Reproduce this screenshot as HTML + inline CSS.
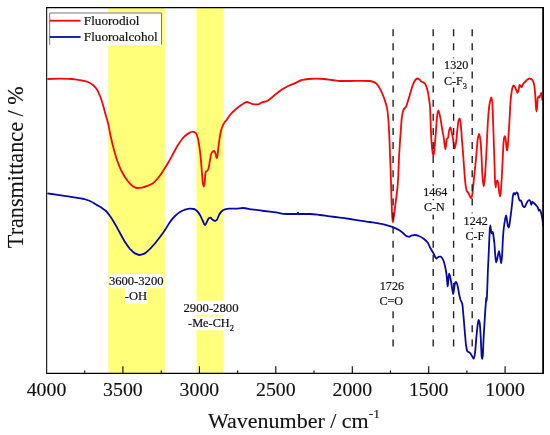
<!DOCTYPE html>
<html><head><meta charset="utf-8"><title>FTIR spectra</title>
<style>
html,body{margin:0;padding:0;background:#fff}
svg{display:block}
text{font-family:"Liberation Serif",serif;fill:#111;stroke:#111;stroke-width:.2px}
.big{stroke-width:.12px;stroke:#000}
</style></head><body>
<svg width="550" height="435" viewBox="0 0 550 435">
<rect width="550" height="435" fill="#fff"/>
<rect x="108.3" y="7.6" width="56.5" height="365.8" fill="#ffff7a"/>
<rect x="196.4" y="7.6" width="26.9" height="365.8" fill="#ffff7a"/>
<path d="M47.4,79.0C51.6,78.7 55.8,78.6 60.0,78.6C64.0,78.6 68.0,78.8 72.0,79.0C74.7,79.2 77.3,79.7 80.0,80.2C82.7,80.7 85.3,81.1 88.0,82.0C89.7,82.6 91.3,83.7 93.0,85.0C94.3,86.1 95.7,87.6 97.0,89.6C98.0,91.1 99.0,93.5 100.0,96.0C101.0,98.5 102.0,101.7 103.0,105.0C104.0,108.3 105.0,112.4 106.0,116.0C106.7,118.4 107.3,120.3 108.0,123.0C108.8,126.3 109.6,131.3 110.4,135.0C111.3,139.0 112.1,142.7 113.0,146.0C114.3,151.1 115.7,156.2 117.0,160.0C118.7,164.8 120.3,168.8 122.0,172.0C123.7,175.2 125.3,177.8 127.0,180.0C128.7,182.2 130.3,184.5 132.0,185.6C133.7,186.7 135.3,188.0 137.0,188.0C138.7,188.0 140.3,187.8 142.0,187.6C144.0,187.3 146.0,186.4 148.0,185.6C149.7,184.9 151.3,184.3 153.0,183.2C154.7,182.1 156.3,180.0 158.0,178.0C159.7,176.0 161.3,173.5 163.0,171.0C164.7,168.5 166.3,165.8 168.0,163.0C169.7,160.2 171.3,157.0 173.0,154.0C174.7,151.0 176.3,147.6 178.0,145.0C179.7,142.4 181.3,139.8 183.0,138.0C184.7,136.2 186.3,134.5 188.0,133.6C189.7,132.7 191.3,131.6 193.0,131.6C194.0,131.6 195.0,132.4 196.0,133.4C196.6,134.0 197.2,135.9 197.8,138.0C198.4,140.0 198.9,143.7 199.5,147.6C200.0,150.8 200.4,154.9 200.9,159.7C201.3,163.5 201.6,169.2 202.0,173.4C202.3,176.8 202.6,181.3 202.9,183.0C203.2,184.7 203.5,186.4 203.8,186.4C204.1,186.4 204.4,184.9 204.7,183.0C204.9,181.9 205.0,176.3 205.2,175.0C205.4,173.2 205.7,172.0 205.9,171.7C206.3,171.2 206.8,171.3 207.2,170.9C207.7,170.5 208.1,169.6 208.6,168.3C209.0,167.2 209.4,163.7 209.8,161.4C210.2,159.1 210.6,155.6 211.0,154.5C211.5,153.2 211.9,152.3 212.4,151.9C213.0,151.4 213.5,151.0 214.1,151.0C214.6,151.0 215.0,152.4 215.5,153.6C215.9,154.6 216.3,158.3 216.7,158.3C217.0,158.3 217.3,156.2 217.6,154.5C218.0,152.3 218.4,147.0 218.8,144.0C219.3,140.5 219.7,137.1 220.2,134.7C220.8,131.8 221.3,129.4 221.9,127.8C222.8,125.4 223.6,123.9 224.5,122.6C225.2,121.5 225.9,120.9 226.6,120.0C227.7,118.5 228.9,116.4 230.0,115.0C232.0,112.6 234.0,110.7 236.0,109.0C238.0,107.3 240.0,105.6 242.0,104.4C243.7,103.4 245.3,102.0 247.0,102.0C248.0,102.0 249.0,102.7 250.0,103.0C251.3,103.5 252.7,104.4 254.0,104.4C255.3,104.4 256.7,104.4 258.0,104.4C259.3,104.4 260.7,102.8 262.0,102.4C263.3,102.0 264.7,101.9 266.0,101.4C267.3,100.9 268.7,99.9 270.0,99.0C272.0,97.6 274.0,95.6 276.0,94.0C278.0,92.4 280.0,90.9 282.0,89.6C284.0,88.3 286.0,87.0 288.0,86.0C290.0,85.0 292.0,84.4 294.0,83.6C296.7,82.5 299.3,80.6 302.0,80.0C304.0,79.5 306.0,79.2 308.0,79.0C310.7,78.8 313.3,78.6 316.0,78.6C318.7,78.6 321.3,78.8 324.0,79.0C326.7,79.2 329.3,79.7 332.0,80.0C334.7,80.3 337.3,81.0 340.0,81.0C343.3,81.0 346.7,81.0 350.0,81.0C354.0,81.0 358.0,80.8 362.0,80.8C364.7,80.8 367.3,80.9 370.0,81.0C371.7,81.1 373.3,81.8 375.0,82.6C376.1,83.1 377.1,84.5 378.2,85.9C379.3,87.3 380.3,89.4 381.4,91.6C382.4,93.7 383.5,96.3 384.5,99.3C385.3,101.8 386.2,103.9 387.0,108.2C387.5,110.6 387.9,114.5 388.4,120.0C388.7,123.1 388.9,128.4 389.2,134.0C389.4,138.2 389.6,144.2 389.8,149.3C390.0,154.4 390.2,159.1 390.4,164.5C390.5,168.1 390.7,171.9 390.8,176.0C390.9,180.1 391.1,184.8 391.2,189.1C391.4,195.6 391.6,203.8 391.8,208.2C392.0,212.6 392.2,216.3 392.4,218.4C392.6,220.1 392.7,222.2 392.9,222.2C393.2,222.2 393.5,219.1 393.8,217.1C394.3,213.6 394.9,208.6 395.4,204.4C395.9,200.5 396.4,197.3 396.9,192.9C397.1,190.9 397.4,188.8 397.6,186.0C397.8,183.2 398.1,179.5 398.3,175.0C398.5,171.1 398.7,164.1 398.9,160.0C399.2,153.1 399.6,148.0 399.9,142.9C400.2,138.3 400.5,134.1 400.8,130.2C401.2,125.4 401.5,119.5 401.9,117.0C402.4,113.6 402.9,111.2 403.4,110.1C404.3,108.0 405.3,108.1 406.2,106.3C406.8,105.1 407.5,102.5 408.1,100.5C408.7,98.5 409.4,96.3 410.0,94.2C410.6,92.1 411.3,89.7 411.9,87.8C412.5,85.9 413.2,84.0 413.8,82.7C414.4,81.4 415.1,80.0 415.7,79.5C416.3,79.0 417.0,78.5 417.6,78.5C418.2,78.5 418.9,79.1 419.5,79.5C420.2,80.0 420.8,81.3 421.5,81.7C422.3,82.2 423.2,82.2 424.0,82.7C424.6,83.1 425.3,84.1 425.9,85.3C426.5,86.5 427.2,88.9 427.8,91.6C428.2,93.5 428.7,96.2 429.1,99.3C429.4,101.7 429.8,103.4 430.1,108.2C430.2,110.1 430.4,115.3 430.5,119.0C430.6,122.7 430.8,127.2 430.9,130.2C431.1,135.4 431.4,139.9 431.6,142.9C431.9,146.8 432.2,149.9 432.5,151.8C432.8,153.5 433.0,155.7 433.3,155.7C433.6,155.7 433.9,153.7 434.2,151.8C434.5,149.9 434.8,145.1 435.1,141.6C435.3,138.8 435.6,136.1 435.8,133.0C436.0,130.8 436.1,128.2 436.3,126.0C436.6,122.5 436.8,117.8 437.1,116.0C437.5,113.2 437.9,110.5 438.3,110.5C438.7,110.5 439.2,112.7 439.6,114.3C440.2,116.4 440.7,120.2 441.3,123.5C441.7,125.8 442.1,128.7 442.5,131.0C442.8,132.7 443.1,133.9 443.4,135.7C443.8,138.1 444.2,141.9 444.6,144.5C444.9,146.2 445.1,149.3 445.4,149.3C445.9,149.3 446.3,139.7 446.8,138.9C447.2,138.1 447.7,138.4 448.1,137.6C448.4,137.0 448.8,131.8 449.1,130.6C449.5,129.0 450.0,127.5 450.4,127.5C450.8,127.5 451.2,130.2 451.6,131.9C452.0,133.7 452.5,135.8 452.9,138.3C453.3,140.8 453.8,144.9 454.2,147.0C454.3,147.6 454.5,148.6 454.6,148.6C455.1,148.6 455.6,145.1 456.1,142.1C456.5,139.5 457.0,133.0 457.4,129.4C457.8,126.0 458.2,121.9 458.6,120.5C458.9,119.4 459.2,118.3 459.5,118.3C459.8,118.3 460.2,120.0 460.5,121.7C460.9,124.0 461.4,132.7 461.8,138.0C462.1,142.1 462.5,145.7 462.8,150.0C463.2,154.7 463.5,160.1 463.9,165.0C464.2,169.0 464.5,173.6 464.8,177.0C465.1,180.0 465.3,183.1 465.6,185.0C466.0,187.6 466.3,190.0 466.7,190.8C467.2,191.9 467.7,191.9 468.2,192.7C468.6,193.4 469.1,194.4 469.5,195.3C470.0,196.3 470.5,198.2 471.0,198.2C471.4,198.2 471.9,196.5 472.3,194.6C472.7,192.9 473.1,187.1 473.5,183.2C473.9,179.0 474.4,174.7 474.8,170.5C475.2,166.3 475.7,162.4 476.1,157.7C476.4,154.8 476.6,151.0 476.9,148.0C477.2,145.0 477.4,141.1 477.7,139.5C478.2,136.7 478.6,134.0 479.1,134.0C479.5,134.0 480.0,137.0 480.4,140.0C480.6,141.4 480.8,144.1 481.0,147.0C481.2,149.9 481.4,153.9 481.6,158.0C481.8,162.1 482.0,168.7 482.2,172.0C482.5,176.4 482.7,179.8 483.0,182.0C483.2,183.9 483.5,186.3 483.7,186.3C484.0,186.3 484.3,183.1 484.6,180.5C485.0,177.3 485.3,170.9 485.7,165.0C486.0,160.7 486.2,155.3 486.5,150.0C486.7,145.3 487.0,139.7 487.2,135.0C487.5,129.7 487.7,123.7 488.0,120.0C488.5,113.5 488.9,108.1 489.4,105.0C489.8,102.5 490.1,100.7 490.5,99.5C490.8,98.6 491.0,97.4 491.3,97.4C491.6,97.4 491.9,99.2 492.2,101.4C492.4,102.6 492.5,106.3 492.7,110.0C492.8,112.9 493.0,118.0 493.1,122.0C493.3,127.0 493.4,132.0 493.6,137.0C493.8,142.0 493.9,147.0 494.1,152.0C494.3,157.0 494.4,161.7 494.6,167.0C494.7,171.2 494.9,178.1 495.0,180.5C495.2,184.1 495.4,187.5 495.6,187.5C495.8,187.5 496.1,183.1 496.3,182.4C496.6,181.4 497.0,180.5 497.3,180.5C497.6,180.5 498.0,182.0 498.3,183.6C498.6,185.0 498.9,190.0 499.2,191.9C499.5,193.8 499.8,196.4 500.1,196.4C500.3,196.4 500.6,194.0 500.8,191.9C501.1,189.6 501.3,184.9 501.6,180.5C501.8,176.7 502.1,171.6 502.3,167.0C502.5,163.1 502.7,159.0 502.9,155.0C503.1,151.0 503.3,145.4 503.5,143.0C503.7,140.6 503.9,138.8 504.1,138.0C504.4,137.0 504.6,136.1 504.9,136.1C505.2,136.1 505.5,138.5 505.8,140.5C506.1,142.2 506.3,146.5 506.6,148.2C506.8,149.3 506.9,150.7 507.1,150.7C507.3,150.7 507.5,148.6 507.7,146.9C508.0,144.6 508.2,139.3 508.5,135.5C508.7,132.1 509.0,129.0 509.2,125.3C509.4,122.1 509.6,118.8 509.8,115.0C510.0,111.8 510.1,106.9 510.3,104.5C510.6,99.8 511.0,96.9 511.3,94.4C511.7,91.4 512.1,88.3 512.5,87.4C512.9,86.4 513.4,85.5 513.8,85.5C514.2,85.5 514.7,86.6 515.1,87.4C515.5,88.2 516.0,89.6 516.4,90.5C516.8,91.3 517.2,92.8 517.6,92.8C518.0,92.8 518.3,90.8 518.7,89.3C519.0,88.2 519.2,84.8 519.5,84.8C519.9,84.8 520.2,85.6 520.6,86.1C520.9,86.5 521.2,87.4 521.5,87.4C521.9,87.4 522.3,85.5 522.7,84.8C523.3,83.7 524.0,83.0 524.6,82.3C525.2,81.6 525.9,81.0 526.5,80.4C527.2,79.8 527.8,79.0 528.5,78.8C528.9,78.7 529.3,78.5 529.7,78.5C530.3,78.5 531.0,78.9 531.6,79.3C532.2,79.7 532.7,80.4 533.3,81.6C533.6,82.3 534.0,83.6 534.3,85.5C534.6,87.0 534.8,89.8 535.1,93.1C535.3,95.6 535.5,100.7 535.7,103.3C536.0,106.8 536.2,111.5 536.5,111.5C536.7,111.5 536.9,109.1 537.1,107.1C537.3,105.1 537.5,99.0 537.7,98.2C538.0,97.0 538.3,96.3 538.6,96.3C538.9,96.3 539.2,97.5 539.5,97.5C539.8,97.5 540.0,95.7 540.3,95.0C540.6,94.2 540.9,92.8 541.2,92.8C541.5,92.8 541.8,95.0 542.1,96.9C542.2,97.8 542.4,99.2 542.5,100.7" fill="none" stroke="#fa0606" stroke-width="1.8" stroke-linejoin="round" stroke-linecap="butt"/>
<path d="M47.4,193.4C50.3,193.8 53.1,194.2 56.0,194.6C59.3,195.1 62.7,195.7 66.0,196.2C69.3,196.7 72.7,197.1 76.0,197.6C78.7,198.0 81.3,198.4 84.0,199.0C86.0,199.5 88.0,200.1 90.0,201.0C92.0,201.9 94.0,203.4 96.0,204.6C98.0,205.8 100.0,206.7 102.0,208.0C103.3,208.9 104.7,209.8 106.0,211.0C107.3,212.2 108.7,214.1 110.0,216.0C111.7,218.3 113.3,221.2 115.0,224.0C116.7,226.8 118.3,230.0 120.0,233.0C121.7,236.0 123.3,239.4 125.0,242.0C126.7,244.6 128.3,247.2 130.0,249.0C131.7,250.8 133.3,252.6 135.0,253.4C136.5,254.2 138.1,255.0 139.6,255.0C141.1,255.0 142.5,254.4 144.0,253.8C145.3,253.3 146.7,252.0 148.0,250.8C150.0,249.1 152.0,246.8 154.0,244.5C156.0,242.2 158.0,239.6 160.0,237.0C161.7,234.8 163.3,232.5 165.0,230.0C166.7,227.5 168.3,224.3 170.0,222.0C171.7,219.7 173.3,217.6 175.0,216.0C176.7,214.4 178.3,213.0 180.0,212.0C181.7,211.0 183.3,210.1 185.0,209.6C186.7,209.1 188.3,208.6 190.0,208.6C191.3,208.6 192.7,208.8 194.0,209.0C195.0,209.2 196.0,210.1 197.0,211.0C198.0,211.9 199.0,213.4 200.0,215.0C200.8,216.3 201.6,218.4 202.4,220.0C203.3,221.7 204.1,225.0 205.0,225.0C205.7,225.0 206.3,222.8 207.0,221.6C207.7,220.4 208.3,218.3 209.0,218.0C209.5,217.8 210.1,217.6 210.6,217.6C211.2,217.6 211.8,219.2 212.4,219.6C213.3,220.2 214.1,221.0 215.0,221.0C215.7,221.0 216.3,220.3 217.0,219.6C217.7,218.9 218.3,216.1 219.0,215.0C220.0,213.3 221.0,211.8 222.0,211.0C223.0,210.2 224.0,209.7 225.0,209.4C226.3,209.0 227.7,208.6 229.0,208.6C231.3,208.6 233.7,208.6 236.0,208.6C238.3,208.6 240.7,208.0 243.0,208.0C246.0,208.0 249.0,209.0 252.0,209.4C256.0,210.0 260.0,210.5 264.0,211.0C268.0,211.5 272.0,211.9 276.0,212.4C279.3,212.9 282.7,214.0 286.0,214.0C289.5,214.0 293.0,214.0 296.5,214.0C296.8,214.0 297.0,214.1 297.3,214.1C297.5,214.1 297.8,212.6 298.0,212.6C298.2,212.6 298.5,214.3 298.7,214.3C299.0,214.3 299.2,214.0 299.5,214.0C303.0,214.0 306.5,214.0 310.0,214.0C313.3,214.0 316.7,214.6 320.0,215.0C323.3,215.4 326.7,216.0 330.0,216.4C333.3,216.8 336.7,217.2 340.0,217.6C343.3,218.0 346.7,218.5 350.0,219.0C353.3,219.5 356.7,220.1 360.0,220.6C363.3,221.1 366.7,221.5 370.0,222.0C373.3,222.5 376.7,222.9 380.0,223.6C382.7,224.1 385.3,224.8 388.0,225.6C390.0,226.2 392.0,226.8 394.0,227.6C395.7,228.3 397.3,229.0 399.0,230.0C400.3,230.8 401.7,231.9 403.0,233.0C404.3,234.1 405.7,236.0 407.0,236.4C407.7,236.6 408.3,236.8 409.0,236.8C410.0,236.8 411.0,235.6 412.0,235.4C413.0,235.2 414.0,235.0 415.0,235.0C416.3,235.0 417.7,235.5 419.0,236.0C420.7,236.6 422.3,237.7 424.0,239.0C425.3,240.0 426.7,241.1 428.0,243.0C428.7,244.0 429.3,246.2 430.0,247.5C430.6,248.7 431.3,249.6 431.9,250.7C432.5,251.8 433.2,252.8 433.8,254.0C434.3,254.9 434.7,256.2 435.2,257.0C435.6,257.7 436.0,258.6 436.4,258.6C436.9,258.6 437.3,257.6 437.8,257.3C438.3,257.0 438.7,256.7 439.2,256.7C439.7,256.7 440.1,256.7 440.6,256.7C441.1,256.7 441.6,257.4 442.1,258.0C442.7,258.8 443.4,260.4 444.0,262.3C444.5,263.8 445.0,266.1 445.5,268.5C445.8,270.1 446.2,271.7 446.5,274.3C446.7,276.1 447.0,279.6 447.2,281.9C447.4,283.5 447.5,286.4 447.7,286.4C447.9,286.4 448.1,282.4 448.3,280.6C448.6,278.1 448.8,273.6 449.1,273.6C449.4,273.6 449.8,275.0 450.1,276.2C450.5,277.6 450.9,280.8 451.3,283.2C451.6,285.2 452.0,287.6 452.3,289.5C452.6,291.2 452.9,294.0 453.2,294.0C453.5,294.0 453.9,290.2 454.2,288.3C454.5,286.4 454.9,282.9 455.2,282.5C455.5,282.1 455.8,281.9 456.1,281.9C456.4,281.9 456.8,282.9 457.1,283.8C457.5,284.9 457.9,287.5 458.3,289.5C458.7,291.5 459.1,294.1 459.5,295.9C459.8,297.4 460.2,298.7 460.5,299.7C461.1,301.5 461.7,301.5 462.3,304.0C462.6,305.2 462.9,309.7 463.2,312.9C463.5,316.4 463.9,320.4 464.2,324.4C464.4,327.2 464.7,330.4 464.9,333.0C465.3,337.5 465.7,343.0 466.1,345.5C466.5,348.2 467.0,350.7 467.4,351.2C468.2,352.2 469.1,352.0 469.9,352.8C470.5,353.4 471.2,354.6 471.8,355.6C472.4,356.6 473.1,358.8 473.7,358.8C474.1,358.8 474.6,355.9 475.0,353.1C475.4,350.3 475.9,342.5 476.3,338.0C476.7,333.8 477.1,329.4 477.5,326.5C477.9,323.8 478.2,319.9 478.6,319.9C479.0,319.9 479.3,321.3 479.7,323.0C480.0,324.3 480.2,328.8 480.5,333.0C480.7,336.2 480.9,341.5 481.1,345.5C481.3,349.5 481.5,355.7 481.7,356.9C481.9,357.9 482.0,358.8 482.2,358.8C482.4,358.8 482.7,356.8 482.9,354.4C483.1,352.4 483.3,344.0 483.5,340.0C483.8,334.0 484.1,330.0 484.4,325.0C484.7,320.0 485.0,314.3 485.3,310.0C485.5,307.6 485.6,305.8 485.8,303.5C485.9,301.6 486.1,297.5 486.2,297.5C486.4,297.5 486.5,301.0 486.7,301.0C486.9,301.0 487.0,294.1 487.2,290.0C487.3,287.6 487.4,284.8 487.5,282.0C487.6,278.3 487.8,273.8 487.9,270.5C488.1,265.6 488.3,262.4 488.5,258.0C488.7,253.6 488.9,248.5 489.1,244.1C489.3,239.7 489.5,234.1 489.7,231.4C489.9,228.7 490.1,225.5 490.3,225.5C490.6,225.5 490.9,230.9 491.2,231.9C491.4,232.7 491.7,233.5 491.9,233.5C492.2,233.5 492.5,232.0 492.8,232.0C493.1,232.0 493.3,235.1 493.6,237.0C493.9,238.9 494.1,240.8 494.4,243.5C494.7,246.2 494.9,251.4 495.2,254.3C495.5,257.6 495.8,262.5 496.1,262.5C496.5,262.5 497.0,259.7 497.4,258.1C497.9,256.1 498.5,251.1 499.0,251.1C499.4,251.1 499.9,255.8 500.3,258.1C500.6,259.8 501.0,263.2 501.3,263.2C501.6,263.2 501.9,258.3 502.2,254.0C502.4,251.6 502.5,246.2 502.7,243.0C502.9,239.2 503.1,235.4 503.3,233.0C503.6,229.4 503.9,227.2 504.2,225.0C504.5,222.6 504.9,220.6 505.2,219.0C505.5,217.6 505.8,215.4 506.1,215.4C506.4,215.4 506.7,218.8 507.0,220.5C507.3,222.4 507.7,225.4 508.0,226.2C508.3,226.9 508.6,227.5 508.9,227.5C509.2,227.5 509.6,223.9 509.9,221.7C510.3,218.8 510.8,215.1 511.2,211.5C511.6,208.5 511.9,205.5 512.3,202.0C512.5,200.1 512.7,196.7 512.9,195.7C513.2,194.2 513.5,192.9 513.8,192.9C514.2,192.9 514.7,194.5 515.1,194.5C515.5,194.5 516.0,192.5 516.4,192.5C516.8,192.5 517.2,192.8 517.6,193.2C517.9,193.5 518.2,195.8 518.5,197.0C518.8,198.3 519.2,200.5 519.5,200.5C519.9,200.5 520.4,200.5 520.8,200.5C521.1,200.5 521.5,201.9 521.8,202.7C522.2,203.6 522.5,205.5 522.9,206.0C523.3,206.6 523.8,207.2 524.2,207.2C524.7,207.2 525.3,205.9 525.8,205.0C526.3,204.2 526.8,202.4 527.3,201.8C527.9,201.0 528.5,200.2 529.1,200.2C529.5,200.2 530.0,200.6 530.4,201.2C530.7,201.6 531.0,204.9 531.3,204.9C531.6,204.9 532.0,202.0 532.3,202.0C532.8,202.0 533.3,202.6 533.8,203.0C534.5,203.6 535.3,204.4 536.0,205.2C536.6,205.9 537.3,206.3 537.9,207.5C538.2,208.1 538.5,210.9 538.8,210.9C539.1,210.9 539.5,209.6 539.8,209.6C540.1,209.6 540.5,210.6 540.8,211.5C541.1,212.3 541.4,213.9 541.7,215.4C542.0,216.9 542.3,218.3 542.6,220.5C542.8,221.7 542.9,223.6 543.1,225.5" fill="none" stroke="#0808a8" stroke-width="1.8" stroke-linejoin="round" stroke-linecap="butt"/>
<line x1="393.1" y1="29.2" x2="393.1" y2="346.5" stroke="#222" stroke-width="1.4" stroke-dasharray="7 7.1"/>
<line x1="433.2" y1="29.2" x2="433.2" y2="346.5" stroke="#222" stroke-width="1.4" stroke-dasharray="7 7.1"/>
<line x1="453.6" y1="29.2" x2="453.6" y2="346.5" stroke="#222" stroke-width="1.4" stroke-dasharray="7 7.1"/>
<line x1="472.2" y1="29.2" x2="472.2" y2="346.5" stroke="#222" stroke-width="1.4" stroke-dasharray="7 7.1"/>
<rect x="109" y="274.2" width="54.0" height="14.0" fill="#fff"/>
<text x="136.2" y="285.0" font-size="12.6" text-anchor="middle">3600-3200</text>
<rect x="125" y="288.0" width="21.7" height="15.6" fill="#fff"/>
<text x="136.0" y="299.5" font-size="12.6" text-anchor="middle">-OH</text>
<rect x="183.2" y="300.7" width="55.4" height="14.1" fill="#fff"/>
<text x="211" y="312.1" font-size="12.7" text-anchor="middle">2900-2800</text>
<rect x="186.5" y="316.6" width="48.5" height="13.7" fill="#fff"/>
<text x="211.0" y="326.8" font-size="12.3" text-anchor="middle">-Me-CH<tspan font-size="8.4" dy="4">2</tspan></text>
<rect x="379" y="279.5" width="26.0" height="14.2" fill="#fff"/>
<text x="391.9" y="290.4" font-size="12.1" text-anchor="middle">1726</text>
<rect x="379" y="294.7" width="25.5" height="14.6" fill="#fff"/>
<text x="391.2" y="305.4" font-size="12.1" text-anchor="middle">C=O</text>
<rect x="422.5" y="185.7" width="25.5" height="13.3" fill="#fff"/>
<text x="435.3" y="196.2" font-size="12.1" text-anchor="middle">1464</text>
<rect x="423" y="200.2" width="23.0" height="14.4" fill="#fff"/>
<text x="434.3" y="211.0" font-size="12.1" text-anchor="middle">C-N</text>
<rect x="443" y="58.3" width="26.5" height="14.2" fill="#fff"/>
<text x="456.2" y="69.2" font-size="12.1" text-anchor="middle">1320</text>
<rect x="443" y="73.5" width="26.0" height="14.0" fill="#fff"/>
<text x="455.5" y="84.5" font-size="12.1" text-anchor="middle">C-F<tspan font-size="8.4" dy="4">3</tspan></text>
<rect x="463" y="213.3" width="25.5" height="14.5" fill="#fff"/>
<text x="475.7" y="224.5" font-size="12.1" text-anchor="middle">1242</text>
<rect x="464.5" y="228.8" width="21.0" height="14.6" fill="#fff"/>
<text x="474.9" y="240.2" font-size="12.1" text-anchor="middle">C-F</text>
<rect x="48.9" y="12.6" width="112.6" height="32.6" fill="#fff"/>
<path d="M49.7,44.9V13.0H161.5V44.6" fill="none" stroke="#777" stroke-width="1"/>
<line x1="49.7" y1="20.7" x2="80.6" y2="20.7" stroke="#fa0606" stroke-width="1.8"/>
<line x1="49.7" y1="37.0" x2="80.6" y2="37.0" stroke="#0808a8" stroke-width="1.8"/>
<text x="83.8" y="24.5" font-size="13.2">Fluorodiol</text>
<text x="83.8" y="41.1" font-size="13.2">Fluoroalcohol</text>
<path d="M46.67,373.35V7.1" stroke="#000" stroke-width="1.05" fill="none"/>
<path d="M46.17,7.6H543.95" stroke="#000" stroke-width="1.05" fill="none"/>
<path d="M543.1,7.6V373.95000000000005" stroke="#000" stroke-width="1.8" fill="none"/>
<path d="M46.17,373.35H543.2" stroke="#000" stroke-width="1.2" fill="none"/>
<text x="46.5" y="396.3" font-size="19.8" text-anchor="middle" fill="#000" class="big">4000</text>
<line x1="84.7" y1="373.35" x2="84.7" y2="370.4" stroke="#000" stroke-width="1.1"/>
<line x1="122.9" y1="373.35" x2="122.9" y2="366.3" stroke="#000" stroke-width="1.1"/>
<text x="122.9" y="396.3" font-size="19.8" text-anchor="middle" fill="#000" class="big">3500</text>
<line x1="161.2" y1="373.35" x2="161.2" y2="370.4" stroke="#000" stroke-width="1.1"/>
<line x1="199.4" y1="373.35" x2="199.4" y2="366.3" stroke="#000" stroke-width="1.1"/>
<text x="199.4" y="396.3" font-size="19.8" text-anchor="middle" fill="#000" class="big">3000</text>
<line x1="237.6" y1="373.35" x2="237.6" y2="370.4" stroke="#000" stroke-width="1.1"/>
<line x1="275.8" y1="373.35" x2="275.8" y2="366.3" stroke="#000" stroke-width="1.1"/>
<text x="275.8" y="396.3" font-size="19.8" text-anchor="middle" fill="#000" class="big">2500</text>
<line x1="314.0" y1="373.35" x2="314.0" y2="370.4" stroke="#000" stroke-width="1.1"/>
<line x1="352.3" y1="373.35" x2="352.3" y2="366.3" stroke="#000" stroke-width="1.1"/>
<text x="352.3" y="396.3" font-size="19.8" text-anchor="middle" fill="#000" class="big">2000</text>
<line x1="390.5" y1="373.35" x2="390.5" y2="370.4" stroke="#000" stroke-width="1.1"/>
<line x1="428.7" y1="373.35" x2="428.7" y2="366.3" stroke="#000" stroke-width="1.1"/>
<text x="428.7" y="396.3" font-size="19.8" text-anchor="middle" fill="#000" class="big">1500</text>
<line x1="466.9" y1="373.35" x2="466.9" y2="370.4" stroke="#000" stroke-width="1.1"/>
<line x1="505.1" y1="373.35" x2="505.1" y2="366.3" stroke="#000" stroke-width="1.1"/>
<text x="505.1" y="396.3" font-size="19.8" text-anchor="middle" fill="#000" class="big">1000</text>
<text x="294" y="428" font-size="22" text-anchor="middle" fill="#000" class="big">Wavenumber / cm<tspan font-size="13.5" dy="-10">-1</tspan></text>
<text transform="translate(22.6,167.2) rotate(-90)" font-size="22.2" text-anchor="middle" fill="#000" class="big">Transmittance / %</text>
</svg></body></html>
